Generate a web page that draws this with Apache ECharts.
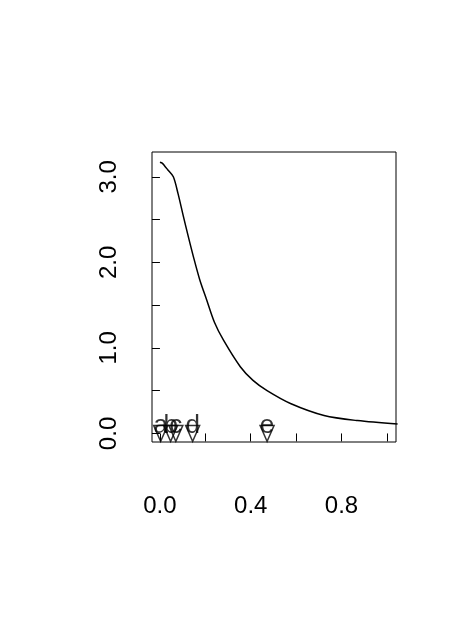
<!DOCTYPE html><html><head><script src="https://cdn.jsdelivr.net/npm/echarts@6/dist/echarts.min.js"></script></head><body style="margin:0;background:#fff"><div id="c" style="width:474px;height:632px"></div><script>
const curveX=[0.0,0.01,0.02,0.035,0.059,0.08,0.103,0.125,0.147,0.175,0.206,0.24,0.28,0.354,0.41,0.472,0.575,0.723,0.87,1.047];
const curveY=[3.17,3.16,3.13,3.08,3.0,2.8,2.54,2.3,2.07,1.8,1.56,1.3,1.09,0.78,0.62,0.50,0.35,0.21,0.15,0.11];
const markX=[0.003,0.047,0.07,0.144,0.472];
const markLabels=['a','b','c','d','e'];
const xTicks=[0,0.2,0.4,0.6,0.8,1.0];
const xLabels=[0,0.4,0.8];
const yTicks=[0,0.5,1,1.5,2,2.5,3];
const yLabels=[0,1,2,3];
const ch=echarts.init(document.getElementById('c'));
const f='Liberation Sans, Arial, sans-serif';
ch.setOption({animation:false,
grid:{left:152,right:78,top:152,bottom:190},
xAxis:{type:'value',min:-0.035,max:1.04,splitLine:{show:false},
 axisLine:{show:false},axisTick:{show:true,length:8,customValues:xTicks,lineStyle:{color:'#000'}},
 axisLabel:{margin:44,fontSize:24,fontFamily:f,color:'#000',customValues:xLabels,formatter:v=>v.toFixed(1)}},
yAxis:{type:'value',min:-0.1,max:3.29,splitLine:{show:false},
 axisLine:{show:false},axisTick:{show:true,length:8,customValues:yTicks,lineStyle:{color:'#000'}},
 axisLabel:{rotate:90,margin:22,fontSize:24,fontFamily:f,color:'#000',customValues:yLabels,formatter:v=>v.toFixed(1)}},
series:[
{type:'line',data:curveX.map((x,i)=>[x,curveY[i]]),smooth:0.3,symbol:'none',lineStyle:{color:'#000',width:1.5},
 markArea:{silent:true,itemStyle:{color:'transparent',borderColor:'#000',borderWidth:1},data:[[{coord:[-0.035,-0.1]},{coord:[1.04,3.29]}]]}},
{type:'scatter',data:markX.map((x,i)=>[x,0]),symbol:'triangle',symbolRotate:180,symbolSize:[14,16],
 itemStyle:{color:'transparent',borderColor:'#000',borderWidth:1.5},
 label:{show:true,position:'inside',offset:[0,-8],fontSize:26,fontFamily:f,color:'#000',formatter:p=>markLabels[p.dataIndex]}}
]});
</script></body></html>
